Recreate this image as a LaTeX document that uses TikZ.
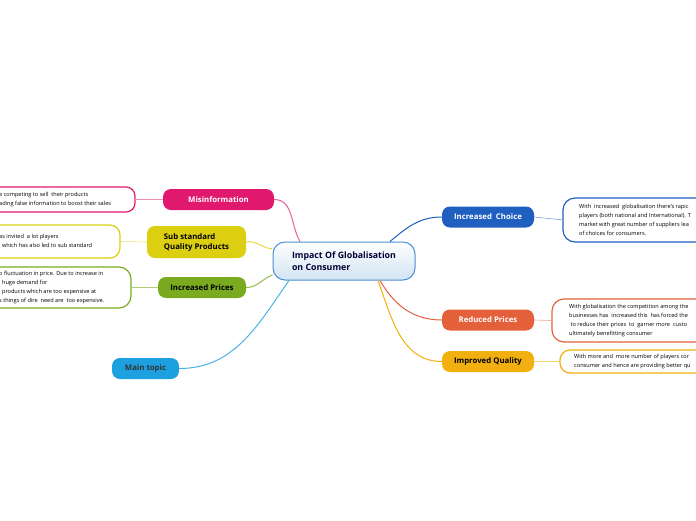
\documentclass[tikz,border=0pt]{standalone}
\usepackage{fontspec}
\setmainfont{Open Sans}
\definecolor{cpink}{HTML}{E0196E}
\definecolor{cyel}{HTML}{DCCF12}
\definecolor{cgreen}{HTML}{7AAA20}
\definecolor{cmain}{HTML}{1DA0E0}
\definecolor{cblue}{HTML}{1F5FC0}
\definecolor{corange}{HTML}{E4603A}
\definecolor{camber}{HTML}{F2B010}
\definecolor{ccent}{HTML}{4A90D0}
\begin{document}
\begin{tikzpicture}[x=1pt,y=1pt,
 topic/.style={rounded corners=8pt,minimum height=21pt,inner sep=2pt,font=\fontsize{7.8}{10}\selectfont\bfseries,align=left},
 txt/.style={font=\fontsize{5.6}{9}\selectfont,align=left,anchor=west,inner sep=0pt},
 conn/.style={line width=1pt}]
\useasboundingbox (0,0) rectangle (696,-520);
\clip (0,0) rectangle (696,-520);
% central
\node[draw=ccent,line width=1pt,rounded corners=12pt,top color=white,bottom color=ccent!25,minimum width=142pt,minimum height=38pt,font=\fontsize{8.8}{12}\selectfont\bfseries,align=left,text=black!80!blue] (c) at (344,-261) {Impact Of Globalisation\\on Consumer};
% topics
\node[topic,fill=cpink,text=white,minimum width=111pt] (mis) at (218.5,-199.5) {Misinformation};
\node[topic,fill=cyel,text=black,minimum width=99pt,minimum height=32pt] (sub) at (196.5,-242) {Sub standard\\Quality Products};
\node[topic,fill=cgreen,text=black,minimum width=88pt] (ip) at (202,-287.5) {Increased Prices};
\node[topic,fill=cmain,text=black!80,minimum width=67pt] (mt) at (145.5,-368.5) {Main topic};
\node[topic,fill=cblue,text=white,minimum width=92pt] (ic) at (488,-217) {Increased\ \ Choice};
\node[topic,fill=corange,text=white,minimum width=92pt] (rp) at (488,-320) {Reduced Prices};
\node[topic,fill=camber,text=black,minimum width=92pt] (iq) at (488,-361.5) {Improved Quality};
% description boxes
\draw[cpink,line width=1.2pt,rounded corners=9pt] (-20,-187) rectangle (135,-212);
\coordinate (dmis) at (135,-199.5);
\draw[cyel,line width=1.2pt,rounded corners=10pt] (-20,-225) rectangle (120,-258);
\coordinate (dsub) at (120,-241.5);
\draw[cgreen,line width=1.2pt,rounded corners=12pt] (-20,-267) rectangle (131,-308);
\coordinate (dip) at (131,-287.5);
\draw[cblue,line width=1.2pt,rounded corners=12pt] (563,-198) rectangle (720,-242);
\coordinate (dic) at (563,-220);
\draw[corange,line width=1.2pt,rounded corners=12pt] (552,-299) rectangle (720,-342);
\coordinate (drp) at (552,-320.5);
\draw[camber,line width=1.2pt,rounded corners=10pt] (560,-350) rectangle (720,-373);
\coordinate (diq) at (560,-361.5);
\node[txt] at (-1,-199.5) {e competing to sell\ \ their products\\ading false information to boost their sales};
\node[txt] at (-1,-241.5) {as invited\ \ a lot players\\, which has also led to sub standard};
\node[txt] at (-1,-287.5) {o fluctuation in price. Due to increase in\\\ \ huge demand for\\l products which are too expensive at\\s things of dire\ \ need are\ \ too expensive.};
\node[txt] at (579,-220) {With\ \ increased\ \ globalisation there's rapic\\players (both national and International). T\\market with great number of suppliers lea\\of choices for consumers.};
\node[txt] at (569,-320.5) {With globalisation the competition among the\\businesses has\ \ increased this\ \ has forced the\\\ to reduce their prices\ \ to\ \ garner more\ \ custo\\ultimately benefitting consumer};
\node[txt] at (574,-361.5) {With more and\ \ more number of players cor\\consumer and hence are providing better qu};
% connectors
\draw[conn,cpink!70] (mis.east) to[out=0,in=120] ([xshift=-44pt]c.north);
\draw[conn,cyel!80] (sub.east) to[out=10,in=175] ([yshift=12pt]c.west);
\draw[conn,cgreen!80] (ip.east) to[out=0,in=200] ([yshift=-14pt]c.west);
\draw[conn,cmain!80] (mt.east) to[out=0,in=235] ([xshift=-55pt]c.south);
\draw[conn,cblue] (ic.west) to[out=180,in=40] ([xshift=46pt]c.north);
\draw[conn,corange] (rp.west) to[out=180,in=300] ([xshift=36pt]c.south);
\draw[conn,camber] (iq.west) to[out=180,in=290] ([xshift=34pt]c.south);
\draw[cpink!50,line width=0.6pt] (mis.west) -- (dmis);
\draw[cyel!60,line width=0.6pt] (sub.west) -- (dsub);
\draw[cgreen!60,line width=0.6pt] (ip.west) -- (dip);
\draw[cblue!60,line width=0.6pt] (ic.east) -- (dic);
\draw[corange!60,line width=0.6pt] (rp.east) -- (drp);
\draw[camber!60,line width=0.6pt] (iq.east) -- (diq);
\end{tikzpicture}
\end{document}
